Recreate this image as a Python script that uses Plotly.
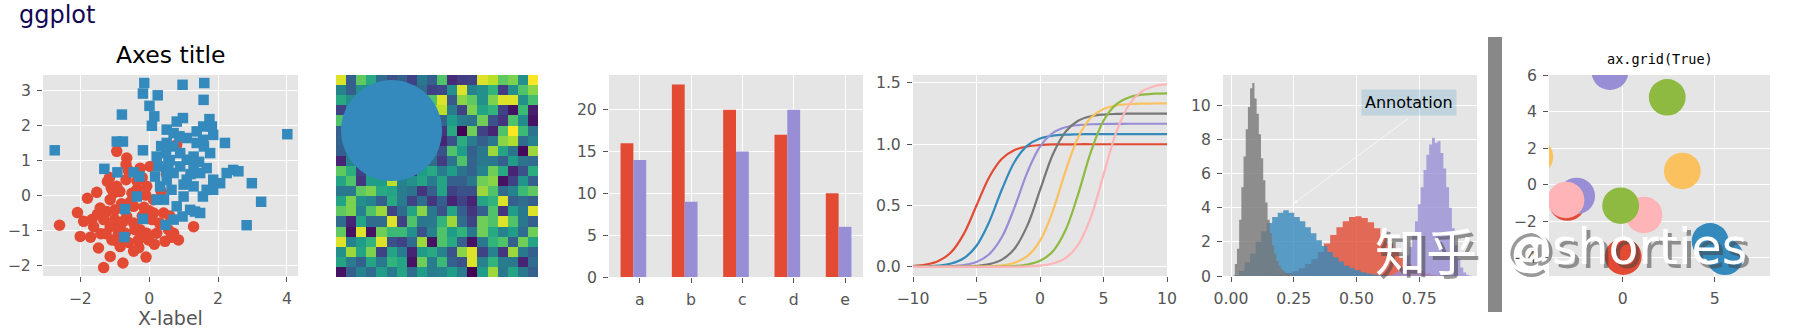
import numpy as np
import plotly.graph_objects as go

W, H = 1794, 328
BG = "#E5E5E5"
CYCLE = ['#E24A33', '#348ABD', '#988ED5', '#777777', '#FBC15E', '#8EBA42', '#FFB5B8']
TICK_FONT = dict(family="DejaVu Sans", size=15.7, color="#555555")

# ---------------- data ----------------
# panel 1: scatter
red_x = [-2.6, -2.08, -2.0, -1.79, -1.52, -1.21, -1.66, -1.61, -1.47, -1.13, -1.32, -0.76, -0.09, -1.08, -0.89,
         -1.42, -1.23, -0.99, -0.94, -0.94, -0.65, -0.67, -0.26, -0.67, 0.03, 0.8, -0.36, -0.45, -0.65, -0.45,
         -0.26, -0.07, -0.31, -0.02, 0.22, 0.46, 0.85, 0.71, 1.29, 0.42, 0.13, 0.13, -0.07, -1.13, -1.03,
         -1.32, -1.13, -0.84, -0.69, -0.41, -0.84, 0.56, 0.08, -0.55, -0.2, -1.0, -0.8, -1.5, -1.25, -0.6,
         -0.15, 0.3, -0.35, -1.1, 0.0, -0.5, -0.95, -1.9, -0.3, 0.6, -0.75, -1.4, -0.2, 0.35, -0.6,
         -1.7, 0.65, -0.45, 0.15, -1.15, -0.85, -0.1, 0.5]
red_y = [-0.86, -0.5, -1.18, -0.09, 0.08, 0.39, -0.7, -0.9, -1.51, -1.75, -2.07, -1.94, -1.77, -1.28, -1.09,
         -0.37, -0.47, -0.42, 0.25, 1.25, 1.06, 0.87, 0.77, 0.44, 0.82, 1.44, 0.15, -0.32, -0.61, -0.8,
         -0.99, -1.09, -1.28, -1.28, -1.09, -1.32, -1.28, -1.09, -0.9, -0.51, -0.51, -0.13, 0.25, -0.13, 0.06,
         -0.7, -0.9, -0.9, -1.09, -0.99, -1.47, -0.99, -0.7, -0.2, -0.6, -0.7, -0.25, -0.55, -1.1, -1.35,
         -0.35, -0.8, 0.4, 0.2, -0.45, 0.05, -1.3, -0.75, -1.5, -0.6, -0.75, -1.1, 0.5, 0.1, 0.7,
         -1.2, -1.2, -1.6, -1.4, 0.5, 0.1, 0.0, 0.6]
blue_x = [-2.74, -0.14, -0.18, 0.25, 0.01, 0.15, 0.08, 0.97, 1.6, 1.58, -0.79, 4.01, 2.2, 1.75, 0.98,
          0.8, 0.51, 1.38, 1.86, 1.57, -0.94, -0.76, -0.18, -1.3, -0.92, -0.45, -0.28, 0.22, 0.56, 0.9,
          1.09, 1.29, 1.48, 1.67, 1.86, 2.06, 2.25, 2.44, 2.59, 2.98, 3.25, 2.83, 1.56, 1.67, 1.86,
          1.29, 1.0, 0.8, 0.97, 1.19, 1.48, 1.33, 0.71, 0.48, 0.43, 0.22, 0.32, 0.51, 0.71, 0.51,
          0.27, 0.17, 0.9, 1.09, 1.38, 1.57, 1.77, 1.09, 0.71, 0.51, 0.49, -0.36, -0.7, -0.18, -0.72,
          1.82, 1.29, 1.59, 0.88, 0.71, 0.6, 1.0, 0.65, 1.45, 0.35, 1.2]
blue_y = [1.28, 3.2, 2.9, 2.85, 2.55, 2.25, 1.98, 3.15, 3.2, 2.72, 2.3, 1.74, 1.49, 2.17, 2.2,
          2.1, 1.87, 1.82, 1.72, 1.96, 1.53, 1.53, 1.28, 0.75, 0.65, 0.65, 0.53, 1.1, 0.91, 1.2,
          1.01, 0.82, 0.63, 0.77, 0.44, 0.34, 0.63, 0.72, 0.68, 0.34, -0.19, -0.86, -0.04, 0.15, 0.15,
          0.25, -0.04, -0.32, -0.61, -0.42, -0.51, -0.47, -0.7, -0.85, -0.13, -0.13, 0.25, 0.44, 0.63, 0.72,
          0.82, 0.53, 0.82, 0.44, 1.49, 1.58, 1.2, 1.63, 1.39, 1.49, 1.2, -0.04, -0.4, -0.68, -1.2,
          1.96, 1.1, 1.39, 1.68, 1.77, 1.0, 0.3, 0.15, 0.95, 1.4, 0.6]

# panel 2: image values (20 x 20) and patch
image_values = [
    [0.95, 0.30, 0.75, 0.60, 0.35, 0.25, 0.30, 0.20, 0.40, 0.30, 0.72, 0.12, 0.18, 0.20, 0.95, 0.90, 0.75, 0.80, 0.50, 1.00],
    [0.45, 0.30, 0.50, 0.50, 0.40, 0.45, 0.55, 0.30, 0.35, 0.20, 0.22, 0.50, 0.95, 0.45, 0.50, 0.65, 0.18, 0.50, 0.72, 0.82],
    [0.60, 0.50, 0.50, 0.60, 0.45, 0.50, 0.55, 0.45, 0.60, 0.72, 0.95, 0.28, 0.82, 0.75, 0.50, 0.80, 0.95, 0.95, 0.50, 0.70],
    [0.20, 0.45, 0.55, 0.50, 0.40, 0.50, 0.45, 0.55, 0.60, 0.85, 0.90, 0.42, 0.20, 0.80, 0.58, 0.65, 0.20, 0.05, 0.68, 0.08],
    [0.72, 0.50, 0.45, 0.55, 0.50, 0.45, 0.50, 0.60, 0.55, 0.88, 0.32, 0.55, 0.42, 0.38, 0.78, 0.25, 0.15, 0.72, 0.48, 0.05],
    [0.30, 0.40, 0.50, 0.45, 0.55, 0.50, 0.40, 0.50, 0.65, 0.68, 0.15, 0.60, 0.00, 0.78, 0.20, 0.10, 0.72, 1.00, 0.68, 0.38],
    [0.32, 0.30, 0.45, 0.55, 0.50, 0.40, 0.55, 0.45, 0.60, 0.50, 0.10, 0.25, 0.62, 0.42, 0.30, 0.40, 0.82, 0.88, 0.35, 0.45],
    [0.30, 0.35, 0.40, 0.50, 0.45, 0.55, 0.50, 0.45, 0.35, 0.42, 0.25, 0.72, 0.55, 0.30, 0.40, 0.85, 0.58, 0.38, 0.02, 0.85],
    [0.10, 0.45, 0.55, 0.40, 0.50, 0.45, 0.50, 0.55, 0.25, 0.35, 0.18, 0.38, 0.72, 0.32, 0.40, 0.40, 0.30, 0.55, 0.38, 0.35],
    [0.75, 0.62, 0.20, 0.55, 0.45, 0.50, 0.55, 0.15, 0.55, 0.60, 0.42, 0.55, 0.38, 0.32, 0.45, 0.78, 0.60, 0.10, 0.25, 0.62],
    [0.58, 0.72, 0.15, 0.55, 0.55, 0.90, 0.45, 0.50, 0.58, 0.42, 0.58, 0.30, 0.30, 0.40, 0.78, 0.82, 0.05, 0.20, 0.52, 0.30],
    [0.40, 0.40, 0.75, 0.80, 0.60, 0.58, 0.42, 0.38, 0.15, 0.30, 0.58, 0.20, 0.25, 0.25, 0.85, 0.72, 0.35, 0.45, 0.68, 0.75],
    [0.58, 0.80, 0.50, 0.45, 0.30, 0.60, 0.42, 0.20, 0.35, 0.15, 0.30, 0.10, 0.20, 0.10, 0.58, 0.65, 0.95, 0.30, 0.35, 0.30],
    [0.75, 0.80, 0.45, 0.72, 0.85, 0.20, 0.35, 0.58, 0.82, 0.40, 0.25, 0.58, 0.30, 0.15, 0.30, 0.72, 0.15, 0.55, 0.40, 0.95],
    [0.35, 0.10, 0.58, 0.35, 0.35, 0.95, 0.20, 0.72, 0.40, 0.40, 0.65, 0.85, 0.35, 0.20, 0.78, 0.72, 0.95, 0.72, 0.40, 0.30],
    [0.75, 0.05, 0.95, 0.05, 0.78, 0.68, 0.68, 0.50, 0.25, 0.45, 0.72, 0.55, 0.65, 0.40, 0.78, 0.60, 0.45, 0.55, 0.35, 0.78],
    [0.95, 0.45, 0.55, 0.65, 0.95, 0.25, 0.20, 0.35, 0.85, 0.05, 0.72, 0.60, 0.30, 0.05, 0.40, 0.65, 0.72, 0.30, 0.78, 0.58],
    [0.50, 0.85, 0.58, 0.80, 0.20, 0.58, 0.42, 0.10, 0.55, 0.60, 0.45, 0.25, 0.82, 0.95, 0.20, 0.45, 0.15, 0.85, 0.40, 0.30],
    [0.58, 0.42, 0.30, 0.58, 0.40, 0.65, 0.58, 0.05, 0.78, 0.42, 0.68, 0.30, 0.25, 0.95, 0.45, 0.65, 0.42, 0.40, 0.10, 0.35],
    [0.05, 0.30, 0.45, 0.35, 0.55, 0.40, 0.58, 0.35, 0.55, 0.42, 0.45, 0.55, 0.42, 0.00, 0.55, 0.85, 0.40, 0.58, 0.40, 0.30],
]
patch_center = (5, 5)
patch_radius = 5

# panel 3: bars
bar_labels = ['a', 'b', 'c', 'd', 'e']
bar_a = [16, 23, 20, 17, 10]
bar_b = [14, 9, 15, 20, 6]
bar_width = 0.25

# panel 4: colored lines
line_x = [-10, -9, -8, -7, -6, -5, -4, -3, -2, -1, 0, 1, 2, 3, 4, 5, 6, 7, 8, 9, 10]
line_y1 = [0.007, 0.018, 0.047, 0.119, 0.269, 0.5, 0.731, 0.881, 0.953, 0.982, 0.993, 0.998, 0.999,
           1.0, 1.0, 1.0, 1.0, 1.0, 1.0, 1.0, 1.0]
line_y2 = [0.001, 0.004, 0.010, 0.027, 0.070, 0.172, 0.367, 0.631, 0.857, 0.988, 1.046, 1.069, 1.078,
           1.081, 1.083, 1.083, 1.083, 1.083, 1.083, 1.083, 1.083]
line_y3 = [0.000, 0.001, 0.002, 0.006, 0.015, 0.040, 0.103, 0.243, 0.487, 0.771, 0.981, 1.091, 1.138,
           1.156, 1.163, 1.165, 1.166, 1.167, 1.167, 1.167, 1.167]
line_y4 = [0.000, 0.000, 0.000, 0.001, 0.003, 0.008, 0.022, 0.059, 0.149, 0.336, 0.625, 0.914, 1.101,
           1.191, 1.228, 1.242, 1.247, 1.249, 1.250, 1.250, 1.250]
line_y5 = [0.000, 0.000, 0.000, 0.000, 0.001, 0.002, 0.005, 0.012, 0.033, 0.087, 0.212, 0.452, 0.777,
           1.055, 1.215, 1.287, 1.316, 1.327, 1.331, 1.332, 1.333]
line_y6 = [0.000, 0.000, 0.000, 0.000, 0.000, 0.000, 0.001, 0.003, 0.007, 0.018, 0.049, 0.125, 0.296,
           0.591, 0.936, 1.192, 1.325, 1.381, 1.404, 1.412, 1.415]
line_y7 = [0.000, 0.000, 0.000, 0.000, 0.000, 0.000, 0.000, 0.000, 0.001, 0.004, 0.010, 0.027, 0.071,
           0.179, 0.403, 0.750, 1.097, 1.321, 1.429, 1.473, 1.490]

# panel 5: histograms (bin start, bin width, densities)
hist_red_start, hist_red_width = 0.12, 0.025
hist_red = [0.01, 0.02, 0.05, 0.1, 0.17, 0.28, 0.45, 0.7, 1.0, 1.4, 1.9, 2.4, 2.85, 3.2, 3.45,
            3.5, 3.4, 3.15, 2.8, 2.35, 1.9, 1.45, 1.05, 0.7, 0.45, 0.28, 0.16, 0.08, 0.04, 0.02]
hist_blue_start, hist_blue_width = 0.01, 0.022
hist_blue = [0.05, 0.3, 0.8, 1.3, 2.0, 2.6, 3.1, 3.45, 3.7, 3.85, 3.7, 3.45, 3.2, 2.85, 2.5,
             2.1, 1.75, 1.4, 1.1, 0.85, 0.6, 0.45, 0.33, 0.22, 0.14, 0.09, 0.05, 0.03, 0.02, 0.01]
hist_purple_start, hist_purple_width = 0.62, 0.0113
hist_purple = [0.02, 0.05, 0.1, 0.2, 0.3, 0.5, 0.8, 1.2, 1.7, 2.4, 3.2, 4.2, 5.2, 6.2, 7.1,
               7.7, 8.1, 7.8, 7.9, 7.2, 6.3, 5.2, 4.0, 2.8, 1.8, 1.0, 0.5, 0.2, 0.07, 0.02]
hist_gray_start, hist_gray_width = 0.015, 0.0087
hist_gray = [0.7, 1.6, 3.3, 5.2, 7.0, 8.6, 9.9, 11.0, 11.3, 10.4, 9.5, 8.3, 6.9, 5.6, 4.3,
             3.3, 2.5, 1.8, 1.3, 0.9, 0.6, 0.42, 0.28, 0.18, 0.11, 0.07, 0.04, 0.02, 0.01, 0.01]
annot_xy = (0.25, 4.25)
annot_text = "Annotation"

# panel 6: colored circles (x, y, colour index) in drawing order
circle_x = [-3.0, 4.75, -0.69, -4.77, 2.42, 1.16, 0.03, 5.55, -2.5, 3.24, -0.11, -3.08]
circle_y = [-0.98, -3.1, 6.18, 1.53, 4.78, -1.66, -3.94, -3.95, -0.62, 0.75, -1.15, -0.84]
circle_c = [0, 1, 2, 4, 5, 6, 0, 1, 2, 4, 5, 6]
circle_radius = 1.0

# ---------------- layout helpers ----------------
def dom_x(a, b):
    return [a / W, b / W]


def dom_y(top, bottom):
    return [1 - bottom / H, 1 - top / H]


def rgba(hexc, a):
    h = hexc.lstrip('#')
    return f"rgba({int(h[0:2],16)},{int(h[2:4],16)},{int(h[4:6],16)},{a})"


axis_common = dict(showgrid=True, gridcolor="white", gridwidth=1.3, zeroline=False, showline=False,
                   ticks="outside", ticklen=5, tickwidth=1, tickcolor="#555555",
                   tickfont=TICK_FONT, ticklabelstandoff=3, automargin=False)

fig = go.Figure()

# panel 1
fig.add_trace(go.Scatter(x=red_x, y=red_y, mode="markers", xaxis="x", yaxis="y",
                         marker=dict(symbol="circle", size=11.5, color=CYCLE[0], line=dict(width=0))))
fig.add_trace(go.Scatter(x=blue_x, y=blue_y, mode="markers", xaxis="x", yaxis="y",
                         marker=dict(symbol="square", size=10.5, color=CYCLE[1], line=dict(width=0))))

# panel 2
fig.add_trace(go.Heatmap(z=image_values, colorscale="Viridis", zmin=0, zmax=1, showscale=False,
                         xaxis="x2", yaxis="y2", hoverinfo="skip"))

# panel 3
pos = np.arange(len(bar_labels))
fig.add_trace(go.Bar(x=pos, y=bar_a, width=bar_width, marker=dict(color=CYCLE[0], line=dict(width=0)),
                     xaxis="x3", yaxis="y3"))
fig.add_trace(go.Bar(x=pos + bar_width, y=bar_b, width=bar_width,
                     marker=dict(color=CYCLE[2], line=dict(width=0)), xaxis="x3", yaxis="y3"))

# panel 4
for i, ys in enumerate([line_y1, line_y2, line_y3, line_y4, line_y5, line_y6, line_y7]):
    fig.add_trace(go.Scatter(x=line_x, y=ys, mode="lines", line=dict(color=CYCLE[i], width=2.2, shape="spline"),
                             xaxis="x4", yaxis="y4"))

# panel 5
def step_xy(start, width, heights):
    edges = start + width * np.arange(len(heights) + 1)
    xs = np.concatenate([[edges[0]], edges, [edges[-1]]])
    ys = np.concatenate([[0.0], heights, [heights[-1]], [0.0]])
    return xs, ys


for (st, wd, hs), col in zip([(hist_red_start, hist_red_width, hist_red),
                              (hist_blue_start, hist_blue_width, hist_blue),
                              (hist_purple_start, hist_purple_width, hist_purple),
                              (hist_gray_start, hist_gray_width, hist_gray)],
                             [CYCLE[0], CYCLE[1], CYCLE[2], CYCLE[3]]):
    xs, ys = step_xy(st, wd, hs)
    fig.add_trace(go.Scatter(x=xs, y=ys, mode="lines", line=dict(width=0, shape="hv"), fill="toself",
                             fillcolor=rgba(col, 0.8), xaxis="x5", yaxis="y5", hoverinfo="skip"))

# panel 6: invisible trace so axes render
fig.add_trace(go.Scatter(x=[None], y=[None], xaxis="x6", yaxis="y6", mode="markers"))

shapes = []
shapes.append(dict(type="circle", xref="x2", yref="y2",
                   x0=patch_center[0] - patch_radius, x1=patch_center[0] + patch_radius,
                   y0=patch_center[1] - patch_radius, y1=patch_center[1] + patch_radius,
                   fillcolor=CYCLE[1], line=dict(width=0), layer="above"))
for cx, cy, ci in zip(circle_x, circle_y, circle_c):
    shapes.append(dict(type="circle", xref="x6", yref="y6",
                       x0=cx - circle_radius, x1=cx + circle_radius,
                       y0=cy - circle_radius, y1=cy + circle_radius,
                       fillcolor=CYCLE[ci], line=dict(width=0), layer="above"))
shapes.append(dict(type="rect", xref="paper", yref="paper", x0=1488 / W, x1=1502 / W,
                   y0=1 - 312 / H, y1=1 - 37 / H, fillcolor="#888888", line=dict(width=0), layer="above"))

row_top, row_bot = 75, 276

layout = dict(
    width=W, height=H, autosize=False,
    margin=dict(l=0, r=0, t=0, b=0, pad=0, autoexpand=False),
    paper_bgcolor="white", plot_bgcolor=BG, showlegend=False, barmode="overlay",
    xaxis=dict(domain=dom_x(43, 298), anchor="y", range=[-3.08, 4.32], tickvals=[-2, 0, 2, 4], **axis_common),
    yaxis=dict(domain=dom_y(row_top, row_bot), anchor="x", range=[-2.31, 3.43], tickvals=[-2, -1, 0, 1, 2, 3],
               **axis_common),
    xaxis2=dict(domain=dom_x(336, 538), anchor="y2", range=[-0.5, 19.5], visible=False, automargin=False),
    yaxis2=dict(domain=dom_y(75, 277), anchor="x2", range=[19.5, -0.5], visible=False, automargin=False),
    xaxis3=dict(domain=dom_x(609, 863), anchor="y3", range=[-0.35, 4.6],
                tickvals=list(pos + bar_width), ticktext=bar_labels, **axis_common),
    yaxis3=dict(domain=dom_y(75, 277), anchor="x3", range=[0, 24.15], tickvals=[0, 5, 10, 15, 20], **axis_common),
    xaxis4=dict(domain=dom_x(913, 1167), anchor="y4", range=[-10, 10], tickvals=[-10, -5, 0, 5, 10], **axis_common),
    yaxis4=dict(domain=dom_y(row_top, row_bot), anchor="x4", range=[-0.0745, 1.5645], tickvals=[0, 0.5, 1.0, 1.5],
                ticktext=["0.0", "0.5", "1.0", "1.5"], **axis_common),
    xaxis5=dict(domain=dom_x(1223, 1477), anchor="y5", range=[-0.032, 0.98], tickvals=[0, 0.25, 0.5, 0.75],
                ticktext=["0.00", "0.25", "0.50", "0.75"], **axis_common),
    yaxis5=dict(domain=dom_y(row_top, row_bot), anchor="x5", range=[0, 11.77], tickvals=[0, 2, 4, 6, 8, 10],
                **axis_common),
    xaxis6=dict(domain=dom_x(1549, 1770), anchor="y6", range=[-4, 8], tickvals=[0, 5], **axis_common),
    yaxis6=dict(domain=dom_y(row_top, row_bot), anchor="x6", range=[-5, 6.0001],
                tickvals=[-4, -2, 0, 2, 4, 6], **axis_common),
    shapes=shapes,
)
fig.update_layout(**layout)


def ann(text, xpx, ypx, size, color="black", family="DejaVu Sans", xanchor="center", yanchor="middle", **kw):
    fig.add_annotation(text=text, x=xpx / W, y=1 - ypx / H, xref="paper", yref="paper", showarrow=False,
                       xanchor=xanchor, yanchor=yanchor, font=dict(size=size, color=color, family=family), **kw)


ann("ggplot", 17, 15, 24, color="#130654", xanchor="left")
ann("Axes title", 170.5, 55, 23.5)
ann("X-label", 170.5, 318, 19, color="#555555")
ann("ax.grid(True)", 1659.5, 59, 13.5, family="DejaVu Sans Mono")

# histogram annotation arrow and box
fig.add_annotation(x=annot_xy[0], y=annot_xy[1], xref="x5", yref="y5", ax=0.713, ay=9.3, axref="x5", ayref="y5",
                   text="", showarrow=True, arrowhead=2, arrowsize=0.8, arrowwidth=1,
                   arrowcolor="rgba(255,255,255,0.7)")
fig.add_annotation(text=annot_text, x=1457 / W, y=1 - 89 / H, xref="paper", yref="paper", showarrow=False,
                   xanchor="right", yanchor="top", bgcolor="rgba(52,138,189,0.2)", borderpad=3,
                   font=dict(size=16, color="black", family="DejaVu Sans"))

# watermark
for dx, dy, col in [(4, 4, "rgba(70,70,70,0.55)"), (0, 0, "white")]:
    ann("知乎", 1425.5 + dx, 249 + dy, 51, color=col, family="Noto Sans CJK SC")
    ann("@shorties", 1625 + dx, 247 + dy, 49, color=col, family="DejaVu Sans")

fig.write_html("out.html")
